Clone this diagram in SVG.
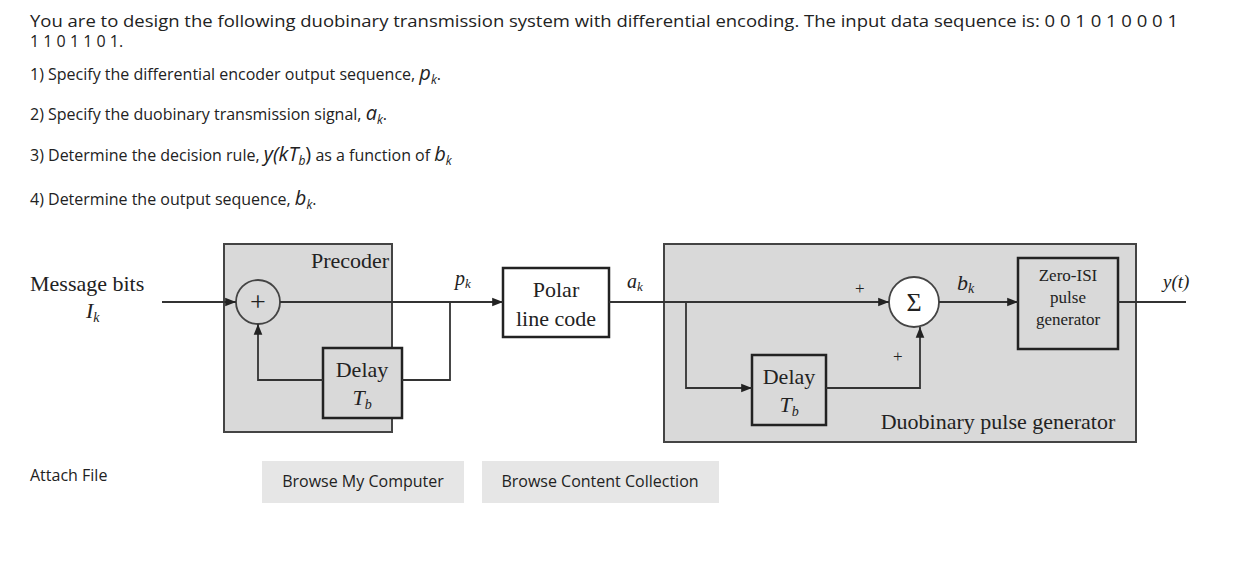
<svg xmlns="http://www.w3.org/2000/svg" width="1242" height="573" viewBox="0 0 1242 573">
<defs>
<marker id="ar" viewBox="0 0 10 10" refX="10" refY="5" markerWidth="6" markerHeight="6" orient="auto"><path d="M0,1 L10,5 L0,9 z" fill="#222"/></marker>
<style>
.q{font-family:"Open Sans","Liberation Sans",sans-serif;font-size:16px;fill:#222}
.m{font-family:"Liberation Serif",serif;fill:#222}
.it{font-style:italic}
.grp{fill:#d9d9d9;stroke:#444;stroke-width:2}
.blk{fill:#fff;stroke:#222;stroke-width:2.5}
.blkg{fill:#d9d9d9;stroke:#222;stroke-width:2.5}
.ln{fill:none;stroke:#333;stroke-width:1.8}
.btn{fill:#e6e6e6}
</style>
</defs>
<rect width="1242" height="573" fill="#fff"/>
<g id="question">
<text class="q" x="30" y="27" textLength="1148" lengthAdjust="spacingAndGlyphs">You are to design the following duobinary transmission system with differential encoding. The input data sequence is: 0 0 1 0 1 0 0 0 1</text>
<text class="q" x="30" y="47">1 1 0 1 1 0 1.</text>
<text class="q" x="30" y="80">1) Specify the differential encoder output sequence, <tspan class="it" font-size="20">p</tspan><tspan class="it" font-size="12" dy="4">k</tspan><tspan dy="-4">.</tspan></text>
<text class="q" x="30" y="120">2) Specify the duobinary transmission signal, <tspan class="it" font-size="20">a</tspan><tspan class="it" font-size="12" dy="4">k</tspan><tspan dy="-4">.</tspan></text>
<text class="q" x="30" y="161">3) Determine the decision rule, <tspan class="it" font-size="20">y(kT</tspan><tspan class="it" font-size="12" dy="4">b</tspan><tspan font-size="20" dy="-4">)</tspan> as a function of <tspan class="it" font-size="20">b</tspan><tspan class="it" font-size="12" dy="4">k</tspan></text>
<text class="q" x="30" y="205">4) Determine the output sequence, <tspan class="it" font-size="20">b</tspan><tspan class="it" font-size="12" dy="4">k</tspan><tspan dy="-4">.</tspan></text>
</g>
<g id="precoder"><rect class="grp" x="224" y="244" width="168" height="188"/><text class="m" x="350" y="268" font-size="22" text-anchor="middle">Precoder</text></g>
<g id="duobinary"><rect class="grp" x="664" y="244" width="472" height="198"/><text class="m" x="998" y="429" font-size="22" text-anchor="middle">Duobinary pulse generator</text></g>
<g id="xor"><circle cx="258" cy="302" r="22" fill="#d9d9d9" stroke="#444" stroke-width="1.8"/><text class="m" x="258" y="311" font-size="28" text-anchor="middle">+</text></g>
<g id="delay1"><rect class="blkg" x="323" y="348" width="79" height="70"/><text class="m" x="362" y="377" font-size="22" text-anchor="middle">Delay</text><text class="m it" x="362" y="405" font-size="22" text-anchor="middle">T<tspan font-size="14" dy="4">b</tspan></text></g>
<g id="polar"><rect class="blk" x="503" y="268" width="106" height="69"/><text class="m" x="556" y="297" font-size="22" text-anchor="middle">Polar</text><text class="m" x="556" y="326" font-size="22" text-anchor="middle">line code</text></g>
<g id="sum"><circle cx="914" cy="302" r="25" fill="#fff" stroke="#444" stroke-width="1.8"/><text class="m" x="914" y="311" font-size="26" text-anchor="middle">Σ</text></g>
<g id="delay2"><rect class="blkg" x="752" y="355" width="74" height="70"/><text class="m" x="789" y="384" font-size="22" text-anchor="middle">Delay</text><text class="m it" x="789" y="412" font-size="22" text-anchor="middle">T<tspan font-size="14" dy="4">b</tspan></text></g>
<g id="zeroisi"><rect class="blkg" x="1018" y="258" width="100" height="91"/><text class="m" x="1068" y="281" font-size="17" text-anchor="middle">Zero-ISI</text><text class="m" x="1068" y="303" font-size="17" text-anchor="middle">pulse</text><text class="m" x="1068" y="325" font-size="17" text-anchor="middle">generator</text></g>
<g id="labels">
<text class="m" x="30" y="291" font-size="22">Message bits</text>
<text class="m it" x="86" y="318" font-size="22">I<tspan font-size="14" dy="4">k</tspan></text>
<text class="m it" x="455" y="285" font-size="20">p<tspan font-size="13" dy="3">k</tspan></text>
<text class="m it" x="627" y="288" font-size="20">a<tspan font-size="13" dy="3">k</tspan></text>
<text class="m it" x="957" y="290" font-size="22">b<tspan font-size="14" dy="3">k</tspan></text>
<text class="m it" x="1163" y="288" font-size="19">y(t)</text>
<text class="m" x="855" y="294" font-size="17">+</text>
<text class="m" x="893" y="362" font-size="17">+</text>
</g>
<g id="connectors">
<line class="ln" x1="162" y1="302" x2="236" y2="302" marker-end="url(#ar)"/>
<line class="ln" x1="280" y1="302" x2="503" y2="302" marker-end="url(#ar)"/>
<polyline class="ln" points="450,302 450,380 402,380"/>
<polyline class="ln" points="323,380 258,380 258,324" marker-end="url(#ar)"/>
<line class="ln" x1="609" y1="302" x2="889" y2="302" marker-end="url(#ar)"/>
<polyline class="ln" points="686,302 686,388 752,388" marker-end="url(#ar)"/>
<polyline class="ln" points="826,388 920,388 920,327" marker-end="url(#ar)"/>
<line class="ln" x1="939" y1="302" x2="1018" y2="302" marker-end="url(#ar)"/>
<line class="ln" x1="1118" y1="302" x2="1186" y2="302"/>
</g>
<g id="form">
<text class="q" x="30" y="481">Attach File</text>
<rect class="btn" x="262" y="461" width="202" height="42"/>
<text class="q" x="363" y="487" font-size="13" text-anchor="middle">Browse My Computer</text>
<rect class="btn" x="482" y="461" width="237" height="42"/>
<text class="q" x="600" y="487" font-size="13" text-anchor="middle">Browse Content Collection</text>
</g>
</svg>
